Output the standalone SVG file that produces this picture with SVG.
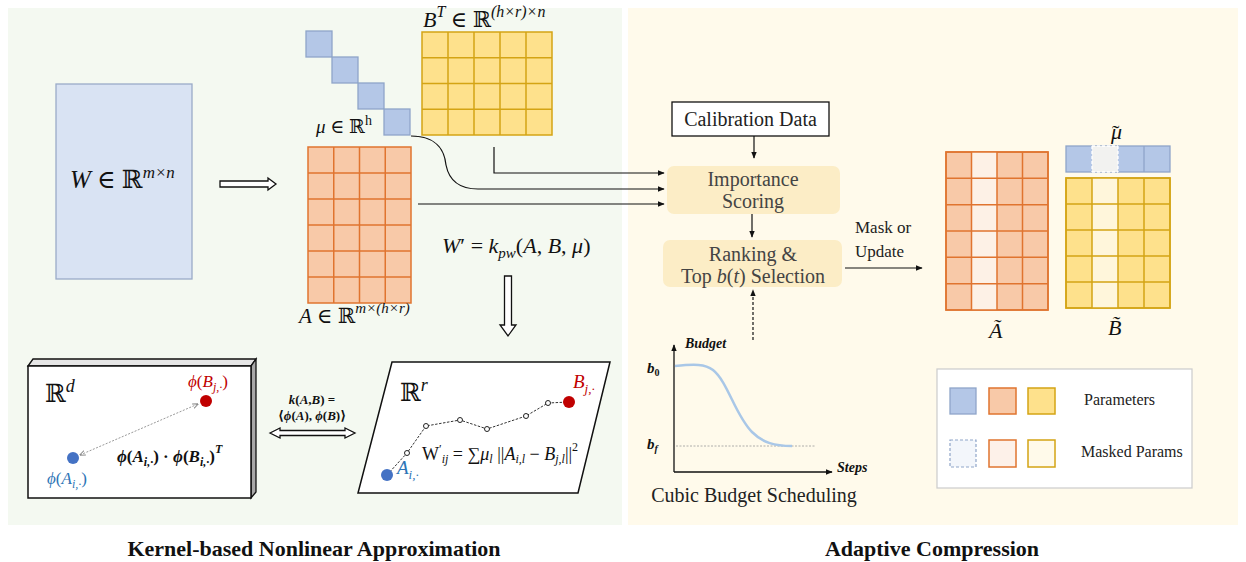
<svg xmlns="http://www.w3.org/2000/svg" width="1246" height="562" viewBox="0 0 1246 562">
<defs>
<style>
.m{font-family:"Liberation Serif","DejaVu Serif",serif;fill:#111}
.i{font-style:italic}
.t{font-family:"Liberation Serif","DejaVu Serif",serif;fill:#222}
.or{fill:#f8c9a8;stroke:#e0742f;stroke-width:1.5}
.ye{fill:#fee18c;stroke:#d4a414;stroke-width:1.5}
.bl{fill:#b4c7e7;stroke:#8fa5c9;stroke-width:1.3}
.gl{stroke-width:1.5;fill:none}
.con{fill:none;stroke:#111;stroke-width:1.2}
.hol{fill:#fff;stroke:#111;stroke-width:1.3}
.box{fill:#fcedc6;stroke:none}
</style>
<marker id="ah" viewBox="0 0 10 10" refX="9" refY="5" markerWidth="7" markerHeight="7" orient="auto-start-reverse" markerUnits="userSpaceOnUse"><path d="M0,1 L10,5 L0,9 z" fill="#111"/></marker>
<marker id="ag" viewBox="0 0 10 10" refX="9" refY="5" markerWidth="6" markerHeight="6" orient="auto-start-reverse" markerUnits="userSpaceOnUse"><path d="M0,1 L10,5 L0,9" fill="none" stroke="#888" stroke-width="1.5"/></marker>
</defs>

<rect x="8" y="8" width="614" height="517" fill="#f4f9f1"/>
<rect x="628" y="8" width="610" height="517" fill="#fffaeb"/>

<g id="W">
<rect x="56" y="84" width="136" height="195" fill="#d9e3f3" stroke="#9aabc8" stroke-width="1.3"/>
<text x="70" y="188" class="m" font-size="25"><tspan class="i">W</tspan> ∈ ℝ<tspan class="i" font-size="17" dy="-10">m×n</tspan></text>
</g>

<g id="mu">
<rect class="bl" x="306" y="31" width="26" height="26"/>
<rect class="bl" x="332" y="57" width="26" height="26"/>
<rect class="bl" x="358" y="83" width="26" height="26"/>
<rect class="bl" x="384" y="109" width="26" height="26"/>
<text x="316" y="133" class="m" font-size="19"><tspan class="i">μ</tspan> ∈ ℝ<tspan font-size="14" dy="-8">h</tspan></text>
</g>

<g id="BT">
<rect class="ye" x="422" y="32" width="130" height="103"/>
<path class="gl" stroke="#d4a414" d="M448,32V135M474,32V135M500,32V135M526,32V135M422,57.75H552M422,83.5H552M422,109.25H552"/>
<text x="423" y="27" class="m" font-size="22"><tspan class="i">B</tspan><tspan class="i" font-size="16" dy="-10">T</tspan><tspan dy="10"> ∈ ℝ</tspan><tspan class="i" font-size="16" dy="-10">(h×r)×n</tspan></text>
</g>

<g id="A">
<rect class="or" x="308" y="147" width="103" height="156"/>
<path class="gl" stroke="#e0742f" d="M333.75,147V303M359.5,147V303M385.25,147V303M308,173H411M308,199H411M308,225H411M308,251H411M308,277H411"/>
<text x="299" y="323" class="m" font-size="21"><tspan class="i">A</tspan> ∈ ℝ<tspan class="i" font-size="15" dy="-10">m×(h×r)</tspan></text>
</g>

<g id="kpw">
<text x="442" y="253" class="m" font-size="22"><tspan class="i">W</tspan>′ = <tspan class="i">k</tspan><tspan class="i" font-size="15" dy="5">pw</tspan><tspan dy="-5">(</tspan><tspan class="i">A</tspan>, <tspan class="i">B</tspan>, <tspan class="i">μ</tspan>)</text>
</g>

<g id="Rd">
<polygon points="28,366 33,359 256,359 251,366" fill="#e6e6e6" stroke="#111" stroke-width="1.3"/>
<polygon points="251,366 256,359 256,492 251,498" fill="#a8a8a8" stroke="#111" stroke-width="1.3"/>
<rect x="28" y="366" width="223" height="132" fill="#fff" stroke="#111" stroke-width="1.5"/>
<text x="45" y="402" class="m" font-size="25">ℝ<tspan class="i" font-size="18" dy="-10">d</tspan></text>
<line x1="80" y1="455" x2="198" y2="404" stroke="#999" stroke-width="1" stroke-dasharray="2,1.5" marker-start="url(#ag)" marker-end="url(#ag)"/>
<circle cx="206" cy="401" r="6" fill="#c00000"/>
<circle cx="73" cy="458" r="6" fill="#4472c4"/>
<text x="188" y="387" class="m" font-size="17" style="fill:#c00000"><tspan class="i">ϕ</tspan>(<tspan class="i">B</tspan><tspan class="i" font-size="12" dy="4">j,·</tspan><tspan dy="-4">)</tspan></text>
<text x="47" y="484" class="m" font-size="17" style="fill:#2e75b6"><tspan class="i">ϕ</tspan>(<tspan class="i">A</tspan><tspan class="i" font-size="12" dy="4">i,·</tspan><tspan dy="-4">)</tspan></text>
<text x="117" y="462" class="m" font-size="17" font-weight="bold"><tspan class="i">ϕ</tspan>(<tspan class="i">A</tspan><tspan class="i" font-size="12" dy="4">i,·</tspan><tspan dy="-4">) · </tspan><tspan class="i">ϕ</tspan>(<tspan class="i">B</tspan><tspan class="i" font-size="12" dy="4">i,·</tspan><tspan dy="-4">)</tspan><tspan class="i" font-size="12" dy="-9">T</tspan></text>
</g>

<g id="kernel">
<text x="312" y="404" class="m" font-size="13" font-weight="bold" text-anchor="middle"><tspan class="i">k</tspan>(<tspan class="i">A</tspan>,<tspan class="i">B</tspan>) =</text>
<text x="312" y="420" class="m" font-size="13" font-weight="bold" text-anchor="middle">⟨<tspan class="i">ϕ</tspan>(<tspan class="i">A</tspan>), <tspan class="i">ϕ</tspan>(<tspan class="i">B</tspan>)⟩</text>
</g>

<g id="Rr">
<polygon points="392,362 610,362 578,493 358,493" fill="#fff" stroke="#111" stroke-width="1.5"/>
<text x="400" y="401" class="m" font-size="25">ℝ<tspan class="i" font-size="18" dy="-10">r</tspan></text>
<polyline points="387,475 407,453 426,426 460,420 487,429 526,416 548,403 569,402" fill="none" stroke="#333" stroke-width="1" stroke-dasharray="2.5,1.5"/>
<g fill="#fff" stroke="#222" stroke-width="1">
<circle cx="407" cy="453" r="2.5"/><circle cx="426" cy="426" r="2.5"/><circle cx="460" cy="420" r="2.5"/><circle cx="487" cy="429" r="2.5"/><circle cx="526" cy="416" r="2.5"/><circle cx="548" cy="403" r="2.5"/>
</g>
<circle cx="569" cy="402" r="6" fill="#c00000"/>
<circle cx="387" cy="475" r="6" fill="#4472c4"/>
<text x="573" y="388" class="m" font-size="19" style="fill:#c00000"><tspan class="i">B</tspan><tspan class="i" font-size="13" dy="5">j,·</tspan></text>
<text x="397" y="474" class="m" font-size="19" style="fill:#2e75b6"><tspan class="i">A</tspan><tspan class="i" font-size="13" dy="5">i,·</tspan></text>
<text x="422" y="460" class="m" font-size="18">W<tspan font-size="12" dy="-7">′</tspan><tspan class="i" font-size="12" dy="10">ij</tspan><tspan dy="-3"> = ∑</tspan><tspan class="i">μ</tspan><tspan class="i" font-size="12" dy="3">l</tspan><tspan dy="-3"> ||</tspan><tspan class="i">A</tspan><tspan class="i" font-size="12" dy="3">i,l</tspan><tspan dy="-3"> − </tspan><tspan class="i">B</tspan><tspan class="i" font-size="12" dy="3">j,l</tspan><tspan dy="-3">||</tspan><tspan font-size="12" dy="-9">2</tspan></text>
</g>

<g id="calib">
<rect x="672" y="102" width="157" height="34" fill="#fff" stroke="#111" stroke-width="1.3"/>
<text x="750.5" y="126" class="t" font-size="20" text-anchor="middle">Calibration Data</text>
</g>

<g id="importance">
<rect class="box" x="667" y="166" width="173" height="48" rx="7"/>
<text x="753" y="186" class="t" font-size="20" text-anchor="middle" style="fill:#444">Importance</text>
<text x="753" y="208" class="t" font-size="20" text-anchor="middle" style="fill:#444">Scoring</text>
</g>

<g id="ranking">
<rect class="box" x="663" y="240" width="179" height="47" rx="7"/>
<text x="753" y="261" class="t" font-size="20" text-anchor="middle" style="fill:#444">Ranking &amp;</text>
<text x="753" y="283" class="t" font-size="20" text-anchor="middle" style="fill:#444">Top <tspan class="i">b</tspan>(<tspan class="i">t</tspan>) Selection</text>
</g>

<g id="budget">
<line x1="674" y1="472" x2="674" y2="345" stroke="#111" stroke-width="1.3" marker-end="url(#ah)"/>
<line x1="674" y1="472" x2="832" y2="472" stroke="#111" stroke-width="1.3" marker-end="url(#ah)"/>
<line x1="676" y1="446" x2="815" y2="446" stroke="#999" stroke-width="0.8" stroke-dasharray="2,1.5"/>
<path d="M675,366 C695,364 705,364 713,370 C728,382 735,415 752,432 C763,443 775,446 792,446" fill="none" stroke="#a9c7e7" stroke-width="2.5"/>
<text x="685" y="348" class="m" font-size="14" font-weight="bold" font-style="italic">Budget</text>
<text x="837" y="472" class="m" font-size="14" font-weight="bold" font-style="italic">Steps</text>
<text x="647" y="373" class="m" font-size="15" font-weight="bold" font-style="italic">b<tspan font-size="10" dy="3" font-style="normal">0</tspan></text>
<text x="647" y="449" class="m" font-size="15" font-weight="bold" font-style="italic">b<tspan font-size="10" dy="3">f</tspan></text>
<text x="754" y="502" class="t" font-size="20" text-anchor="middle">Cubic Budget Scheduling</text>
</g>

<g id="Atilde">
<rect class="or" x="946" y="152" width="102" height="158"/>
<rect x="971.5" y="152" width="25.5" height="158" fill="#fdf1e6"/>
<path class="gl" stroke="#e0742f" d="M946,152H1048V310H946Z M971.5,152V310M997,152V310M1022.5,152V310M946,178.33H1048M946,204.67H1048M946,231H1048M946,257.33H1048M946,283.67H1048"/>
<text x="989" y="338" class="m i" font-size="22">Ã</text>
</g>

<g id="Btilde">
<rect class="bl" x="1066" y="146" width="104" height="26"/>
<rect x="1092" y="146" width="26" height="26" fill="#f2f2f0"/>
<path d="M1092,146V172M1118,146V172M1092,146H1118M1092,172H1118" stroke="#fff" stroke-width="1.3" stroke-dasharray="3,2" fill="none"/>
<path d="M1144,146V172" stroke="#8fa5c9" stroke-width="1.3"/>
<rect class="ye" x="1066" y="178" width="104" height="130"/>
<rect x="1092" y="178" width="26" height="130" fill="#fff6db"/>
<path class="gl" stroke="#d4a414" d="M1066,178H1170V308H1066Z M1092,178V308M1118,178V308M1144,178V308M1066,204H1170M1066,230H1170M1066,256H1170M1066,282H1170"/>
<text x="1111" y="139" class="m" font-size="22"><tspan class="i">μ</tspan><tspan dx="-10" dy="1">˜</tspan></text>
<text x="1108" y="335" class="m i" font-size="22">B̃</text>
</g>

<g id="legend">
<rect x="937" y="369" width="255" height="119" fill="#fff" stroke="#cfcfcf" stroke-width="1.3"/>
<rect class="bl" x="950" y="388" width="26" height="26"/>
<rect class="or" x="989" y="388" width="27" height="26"/>
<rect class="ye" x="1028" y="388" width="27" height="26"/>
<rect x="950" y="440" width="26" height="27" fill="#f3f6fb" stroke="#8fa5c9" stroke-width="1.2" stroke-dasharray="3,2"/>
<rect x="989" y="440" width="27" height="27" fill="#fdf1e9" stroke="#e0742f" stroke-width="1.5"/>
<rect x="1028" y="440" width="27" height="27" fill="#fffaea" stroke="#d4a414" stroke-width="1.5"/>
<text x="1084" y="405" class="t" font-size="16">Parameters</text>
<text x="1081" y="457" class="t" font-size="16">Masked Params</text>
</g>

<g id="connectors">
<polygon class="hol" points="220,181 268,181 268,178 276,184 268,190 268,187 220,187"/>
<polygon class="hol" points="504.5,276 511.5,276 511.5,325 516,325 508,336 500,325 504.5,325"/>
<polygon class="hol" points="270,433 280,428 280,430.5 345,430.5 345,428 355,433 345,438 345,435.5 280,435.5 280,438"/>
<path class="con" d="M494,147V173H664" marker-end="url(#ah)"/>
<path class="con" d="M411,136 C440,136 445,155 446,165 C450,185 465,189 478,189 L664,189" marker-end="url(#ah)"/>
<path class="con" d="M418,204H664" marker-end="url(#ah)"/>
<path class="con" d="M754,136V158" marker-end="url(#ah)"/>
<path class="con" d="M752,214V237" marker-end="url(#ah)"/>
<path class="con" d="M753,340V290" stroke-dasharray="3,2" marker-end="url(#ah)"/>
<path class="con" d="M845,268H922" marker-end="url(#ah)"/>
<text x="855" y="233" class="t" font-size="17">Mask or</text>
<text x="855" y="257" class="t" font-size="17">Update</text>
</g>

<text x="314" y="556" class="t" font-size="22" font-weight="bold" text-anchor="middle" style="fill:#111">Kernel-based Nonlinear Approximation</text>
<text x="932" y="556" class="t" font-size="22" font-weight="bold" text-anchor="middle" style="fill:#111">Adaptive Compression</text>
</svg>
